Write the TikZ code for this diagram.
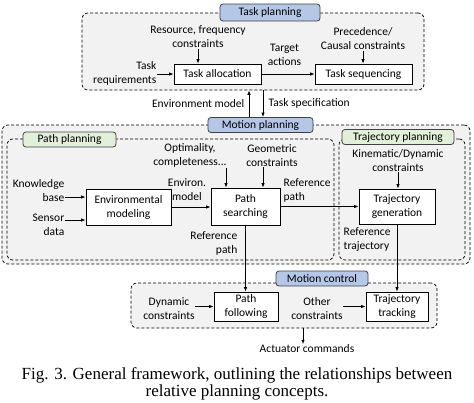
\documentclass[tikz,border=0pt]{standalone}
\usepackage{fontspec}
\setmainfont{Carlito}
\newfontfamily\captionfont{Liberation Serif}
\usetikzlibrary{arrows.meta}
\definecolor{groupgray}{HTML}{F2F2F2}
\definecolor{titleblue}{HTML}{B4C7E7}
\definecolor{titlegreen}{HTML}{E2F0D9}
\definecolor{titleline}{HTML}{404040}

\begin{document}
\begin{tikzpicture}[x=1pt, y=-1pt,
    every node/.style={font=\fontsize{11.5}{14}\selectfont},
    group/.style={draw, line width=0.7pt, dash pattern=on 3pt off 2pt, rounded corners=6pt, fill=groupgray, inner sep=0pt},
    block/.style={draw, line width=0.8pt, fill=white, align=center, inner sep=1pt},
    title/.style={draw=titleline, line width=0.8pt, rounded corners=3pt, inner sep=0pt},
    lbl/.style={inner sep=0.5pt},
    arr/.style={-{Latex[length=4.5pt,width=3.5pt]}, line width=0.8pt}]
    \useasboundingbox (0,0) rectangle (474,402);

    % Groups
    \node[group, minimum width=342pt, minimum height=77pt] (taskgrp) at (253,51.5) {};
    \node[group, minimum width=468pt, minimum height=139pt] (motiongrp) at (236,194.5) {};
    \node[group, minimum width=327pt, minimum height=121pt] (pathgrp) at (170.5,199.5) {};
    \node[group, minimum width=126pt, minimum height=121pt] (trajgrp) at (402,199.5) {};
    \node[group, minimum width=306pt, minimum height=45pt] (ctrlgrp) at (284,305.5) {};

    % Titles
    \node[title, fill=titleblue, minimum width=100pt, minimum height=17pt] (tasktitle) at (270,12.5) {Task planning};
    \node[title, fill=titleblue, minimum width=105pt, minimum height=15pt] (mptitle) at (260.5,125) {Motion planning};
    \node[title, fill=titlegreen, minimum width=93pt, minimum height=15pt] (pptitle) at (69.5,139.5) {Path planning};
    \node[title, fill=titlegreen, minimum width=112pt, minimum height=15pt] (tptitle) at (398,137) {Trajectory planning};
    \node[title, fill=titleblue, minimum width=92pt, minimum height=15pt] (mctitle) at (322,278.5) {Motion control};

    % Blocks
    \node[block, minimum width=87pt, minimum height=20pt] (alloc) at (217.5,74) {Task allocation};
    \node[block, minimum width=97pt, minimum height=20pt] (seq) at (363.5,74) {Task sequencing};
    \node[block, minimum width=85pt, minimum height=36pt] (envmod) at (128.5,207) {Environmental\\modeling};
    \node[block, minimum width=69pt, minimum height=37pt] (search) at (245.5,206.5) {Path\\searching};
    \node[block, minimum width=76pt, minimum height=35pt] (trajgen) at (397,206.5) {Trajectory\\generation};
    \node[block, minimum width=64pt, minimum height=29pt] (follow) at (246,306.5) {Path\\following};
    \node[block, minimum width=62pt, minimum height=29pt] (track) at (397,306.5) {Trajectory\\tracking};

    % Labels
    \node[lbl, align=center] (resource) at (198,37) {Resource, frequency\\constraints};
    \node[lbl, align=center] (prec) at (363,39) {Precedence/\\Causal constraints};
    \node[lbl, align=right, anchor=east] (taskreq) at (157,73) {Task\\requirements};
    \node[lbl, align=center] (target) at (284.5,55) {Target\\actions};
    \node[lbl, anchor=east] (envlbl) at (245,103.5) {Environment model};
    \node[lbl, anchor=west] (speclbl) at (268,103.5) {Task specification};
    \node[lbl, align=right, anchor=east] (knowledge) at (65,191) {Knowledge\\base};
    \node[lbl, align=right, anchor=east] (sensor) at (65,225) {Sensor\\data};
    \node[lbl, align=center] (environ) at (187,190) {Environ.\\model};
    \node[lbl, align=center] (optim) at (190,155.5) {Optimality,\\completeness...};
    \node[lbl, align=center] (geom) at (272,155.5) {Geometric\\constraints};
    \node[lbl, align=left, anchor=west] (refpath) at (283,190) {Reference\\path};
    \node[lbl, align=center] (kin) at (398,160.5) {Kinematic/Dynamic\\constraints};
    \node[lbl, align=right, anchor=east] (refpathb) at (238,243.5) {Reference\\path};
    \node[lbl, align=left, anchor=west] (reftraj) at (343,240) {Reference\\trajectory};
    \node[lbl, align=center] (dyn) at (169,308.5) {Dynamic\\constraints};
    \node[lbl, align=center] (other) at (317,308.5) {Other\\constraints};
    \node[lbl] (act) at (307,349) {Actuator commands};

    % Caption
    \node[align=center, font=\captionfont\fontsize{17}{17.5}\selectfont] (caption) at (237,384)
        {Fig. 3. General framework, outlining the relationships between\\relative planning concepts.};

    % Arrows
    \draw[arr] (taskreq.east |- alloc.west) -- (alloc.west);
    \draw[arr] (resource.south) -- (resource.south |- alloc.north);
    \draw[arr] (prec.south) -- (prec.south |- seq.north);
    \draw[arr] (alloc) -- (seq);
    \draw[arr] ([xshift=-11.5pt]mptitle.north) -- ([xshift=-11.5pt]mptitle.north |- taskgrp.south);
    \draw[arr] ([xshift=2.5pt]mptitle.north |- taskgrp.south) -- ([xshift=2.5pt]mptitle.north);
    \draw[arr] ([yshift=-6pt]knowledge.east) -- ([yshift=-6pt]knowledge.east -| envmod.west);
    \draw[arr] ([yshift=5pt]sensor.east) -- ([yshift=5pt]sensor.east -| envmod.west);
    \draw[arr] (envmod.east) -- (envmod.east -| search.west);
    \draw[arr] ([xshift=-19.5pt]search.north |- optim.south) -- ([xshift=-19.5pt]search.north);
    \draw[arr] ([xshift=17.5pt]search.north |- geom.south) -- ([xshift=17.5pt]search.north);
    \draw[arr] (search.east) -- (search.east -| trajgen.west);
    \draw[arr] (kin.south) -- (kin.south |- trajgen.north);
    \draw[arr] (search.south) -- (search.south |- follow.north);
    \draw[arr] (trajgen.south) -- (trajgen.south |- track.north);
    \draw[arr] (dyn.east |- follow.west) -- (follow.west);
    \draw[arr] (other.east |- track.west) -- (track.west);
    \draw[arr] ([xshift=-4pt]act.north |- ctrlgrp.south) -- ([xshift=-4pt]act.north);
\end{tikzpicture}
\end{document}
